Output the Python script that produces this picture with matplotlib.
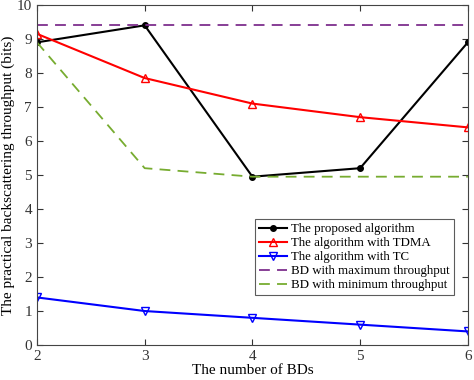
import matplotlib.pyplot as plt

plt.rcParams["font.family"] = "Liberation Serif"
plt.rcParams["font.size"] = 11

bds = [2, 3, 4, 5, 6]
proposed = [8.9, 9.4, 4.95, 5.2, 8.9]
tdma = [9.15, 7.85, 7.1, 6.7, 6.4]
tc = [1.4, 1.0, 0.8, 0.6, 0.4]
max_bd = [9.4, 9.4, 9.4, 9.4, 9.4]
min_bd = [8.9, 5.2, 4.95, 4.95, 4.95]

fig = plt.figure(figsize=(4.74, 3.8), dpi=100)
ax = fig.add_axes([0.078, 0.092, 0.909, 0.895])

ax.plot(bds, proposed, color="black", marker="o", markersize=4, linewidth=1.5,
        label="The proposed algorithm")
ax.plot(bds, tdma, color="red", marker="^", markersize=6, markerfacecolor="none",
        linewidth=1.5, label="The algorithm with TDMA")
ax.plot(bds, tc, color="blue", marker="v", markersize=6, markerfacecolor="none",
        linewidth=1.5, label="The algorithm with TC")
ax.plot(bds, max_bd, color="#7e2f8e", linestyle=(0, (6, 4)), linewidth=1.3,
        label="BD with maximum throughput")
ax.plot(bds, min_bd, color="#77ac30", linestyle=(0, (6, 4)), linewidth=1.3,
        label="BD with minimum throughput")

ax.set_xlim(2, 6)
ax.set_ylim(0, 10)
ax.set_xticks(bds)
ax.set_yticks(range(0, 11))
ax.tick_params(direction="in", top=True, right=True, length=4, colors="#333333",
               labelsize=11)
for s in ax.spines.values():
    s.set_color("#444444")
    s.set_linewidth(0.8)

ax.set_xlabel("The number of BDs", labelpad=1)
ax.set_ylabel("The practical backscattering throughput (bits)", labelpad=1)

leg = ax.legend(loc="upper left", bbox_to_anchor=(0.506, 0.37), fontsize=9.3,
                frameon=True, fancybox=False, edgecolor="#333333",
                borderpad=0.3, labelspacing=0.15, handlelength=2.2,
                handletextpad=0.3, borderaxespad=0)
leg.get_frame().set_linewidth(0.8)

fig.savefig("out.png", dpi=100)
